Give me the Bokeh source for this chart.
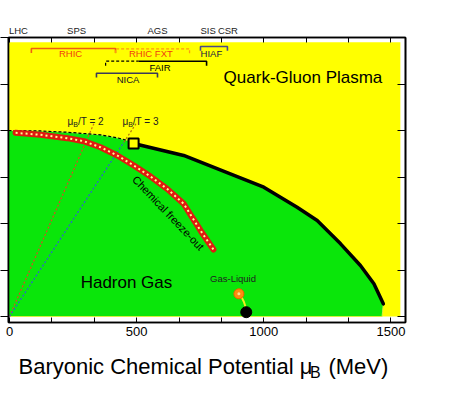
from bokeh.plotting import figure
from bokeh.models import Range1d, LinearAxis, FixedTicker, Label, CustomLabelingPolicy
from bokeh.embed import file_html
from bokeh.resources import INLINE

FONT = "Liberation Sans"

# ---------------- data (mu_B in MeV, T in MeV) ----------------
X_TICKS = [0, 500, 1000, 1500]
X_MINOR = [166.67, 333.33, 666.67, 833.33, 1166.67, 1333.33]
Y_TICKS = [0, 40, 80, 120, 160, 200, 240]

# Quark-gluon plasma background box
QGP_LEFT, QGP_RIGHT, QGP_BOTTOM, QGP_TOP = -3, 1537, 0, 236

# crossover line (dashed)
CROSS_MU = [-4, 122, 227, 358, 424, 476, 488]
CROSS_T = [160.0, 159.6, 158.5, 156.3, 153.7, 150.8, 148.8]
# first-order transition line
FO_MU = [488, 685, 908, 1000, 1131, 1210, 1302, 1380, 1433, 1470]
FO_T = [148.8, 138.5, 119.3, 111.2, 94.0, 82.6, 62.5, 43.9, 28.1, 10.9]
# closing of the hadron-gas region
HG_CLOSE_MU = [1467, 1465, -4]
HG_CLOSE_T = [4, 0, 0]
# critical end point
CEP_MU = [488]
CEP_T = [148.8]

# chemical freeze-out curve
CFO_MU = [24, 122, 227, 292, 358, 424, 489, 555, 620, 685, 718, 751, 802]
CFO_T = [158.0, 156.3, 153.4, 150.8, 145.6, 138.5, 129.9, 120.4, 109.8, 97.0, 85.4, 74.0, 57.6]

# mu_B/T = 2 and 3 lines (inside hadron gas, then above)
R2_LOW_MU, R2_LOW_T = [0, 316], [0, 158]
R2_HIGH_MU, R2_HIGH_T = [316, 332], [158, 166]
R3_LOW_MU, R3_LOW_T = [0, 450], [0, 150]
R3_HIGH_MU, R3_HIGH_T = [450, 498], [150, 166]

# nuclear gas-liquid transition
GL_CP_MU, GL_CP_T = [902], [19.5]
NUC_MU, NUC_T = [931], [3.7]
GL_LINE_MU = [905, 914, 922, 927, 929]
GL_LINE_T = [18.5, 16.0, 12.5, 9.0, 5.5]

# accelerator labels (top)
ACC_NAMES = ["LHC", "SPS", "AGS", "SIS", "CSR"]
ACC_MU = [35, 264, 582, 781, 859]

# facility coverage brackets
FAC_NAMES = ["RHIC", "RHIC FXT", "HIAF", "FAIR", "NICA"]
FAC_START = [86, 417, 751, 378, 342]
FAC_END = [417, 708, 857, 775, 582]
FAC_T = [230.5, 230.3, 232.3, 219.6, 209.3]
FAIR_DASH_END = 507

# ---------------- figure ----------------
p = figure(width=474, height=383, output_backend="svg", toolbar_location=None,
           x_range=Range1d(-3.9, 1557.2), y_range=Range1d(-5.16, 240),
           y_axis_location="left", min_border_left=8, min_border_right=69,
           min_border_top=37, min_border_bottom=61)
p.grid.visible = False
p.outline_line_color = "black"
p.outline_line_width = 1.6
p.background_fill_color = "white"
p.border_fill_color = "white"

NO_LABELS = CustomLabelingPolicy(code="return []")

# left axis: outside ticks only
ya = p.yaxis[0]
ya.ticker = FixedTicker(ticks=Y_TICKS)
ya.major_tick_in = 0
ya.major_tick_out = 8
ya.minor_tick_line_color = None
ya.major_label_text_font_size = "0px"
ya.major_label_standoff = 0
ya.major_label_policy = NO_LABELS
ya.axis_line_color = "black"
ya.axis_line_width = 1.6

# bottom axis
xa = p.xaxis[0]
xa.ticker = FixedTicker(ticks=X_TICKS, minor_ticks=X_MINOR)
xa.major_tick_in = 5
xa.major_tick_out = 0
xa.minor_tick_in = 5
xa.minor_tick_out = 0
xa.axis_line_color = "black"
xa.axis_line_width = 1.6
xa.major_label_text_font = FONT
xa.major_label_text_font_size = "13px"
xa.major_label_text_color = "black"
xa.major_label_standoff = 4

# top axis: accelerator names as labels, scale ticks as minor ticks
ta = LinearAxis(ticker=FixedTicker(ticks=ACC_MU, minor_ticks=X_TICKS + X_MINOR),
                major_label_overrides=dict(zip(ACC_MU, ACC_NAMES)),
                major_tick_in=0, major_tick_out=0, major_tick_line_color=None,
                minor_tick_in=5, minor_tick_out=0,
                major_label_text_font=FONT, major_label_text_font_size="9.5px",
                major_label_text_color="#222222", major_label_standoff=2,
                axis_line_color="black", axis_line_width=1.6)
p.add_layout(ta, "above")

# right axis
ra = LinearAxis(ticker=FixedTicker(ticks=Y_TICKS), major_tick_in=8, major_tick_out=0,
                minor_tick_line_color=None, major_label_text_font_size="0px",
                major_label_standoff=0, major_label_policy=NO_LABELS,
                axis_line_color="black", axis_line_width=1.6)
p.add_layout(ra, "right")

YELLOW = "#ffff00"
GREEN = "#0ae60a"

# QGP background
p.quad(left=[QGP_LEFT], right=[QGP_RIGHT], bottom=[QGP_BOTTOM], top=[QGP_TOP],
       fill_color=YELLOW, line_color=None)

# hadron gas region
hg_mu = CROSS_MU + FO_MU[1:] + HG_CLOSE_MU
hg_t = CROSS_T + FO_T[1:] + HG_CLOSE_T
p.patch(hg_mu, hg_t, fill_color=GREEN, line_color="#d8f040", line_width=1)

# mu_B/T lines
p.line(R2_LOW_MU, R2_LOW_T, line_color="#e04a20", line_width=1.2, line_dash="2 2")
p.line(R2_HIGH_MU, R2_HIGH_T, line_color="#d07010", line_width=1.2, line_dash="2 2")
p.line(R3_LOW_MU, R3_LOW_T, line_color="#2a60d8", line_width=1.2, line_dash="2 2")
p.line(R3_HIGH_MU, R3_HIGH_T, line_color="#b07010", line_width=1.2, line_dash="2 2")

# crossover (dashed)
p.line(CROSS_MU, CROSS_T, line_color="black", line_width=1.2, line_dash="3 2")

# chemical freeze-out
p.line(CFO_MU, CFO_T, line_color="#e01a10", line_width=6, line_cap="round")
p.line(CFO_MU, CFO_T, line_color="#ffff90", line_width=2, line_dash="2 3")

# first-order line
p.line(FO_MU, FO_T, line_color="black", line_width=3.5, line_cap="round")

# critical end point
p.scatter(CEP_MU, CEP_T, marker="square", size=10, fill_color=YELLOW,
          line_color="black", line_width=2)

# gas-liquid
p.line(GL_LINE_MU, GL_LINE_T, line_color="#f0f020", line_width=2)
p.scatter(GL_CP_MU, GL_CP_T, marker="circle", size=10, fill_color="#ff8c10",
          line_color="#f06000", line_width=1)
p.scatter(GL_CP_MU, GL_CP_T, marker="circle", size=3, fill_color="#ffe090",
          line_color=None)
p.scatter(NUC_MU, NUC_T, marker="circle", size=11, fill_color="black",
          line_color="black")

# facility brackets
FAC_STYLE = {
    "RHIC": dict(line_color="#f06010", text_color="#f03c10", lx=240, dy=4.3),
    "RHIC FXT": dict(line_color="#ff9a10", text_color="#f03c10", lx=556, dy=4.3),
    "HIAF": dict(line_color="#4a4a88", text_color="#202040", lx=794, dy=6.0),
    "FAIR": dict(line_color="black", text_color="black", lx=592, dy=5.0),
    "NICA": dict(line_color="#3a3a5a", text_color="#101020", lx=466, dy=5.4),
}
TICK_DROP = 3.8
for name, a, b, t in zip(FAC_NAMES, FAC_START, FAC_END, FAC_T):
    st = FAC_STYLE[name]
    if name == "RHIC FXT":
        p.line([a, a, b, b], [t - TICK_DROP, t, t, t - TICK_DROP],
               line_color=st["line_color"], line_width=1.3, line_dash="3 2")
    elif name == "FAIR":
        p.line([a, a, FAIR_DASH_END], [t - TICK_DROP, t, t],
               line_color="black", line_width=1.2, line_dash="3 2")
        p.line([FAIR_DASH_END, b, b], [t, t, t - TICK_DROP],
               line_color="black", line_width=1.6)
    else:
        p.line([a, a, b, b], [t - TICK_DROP, t, t, t - TICK_DROP],
               line_color=st["line_color"], line_width=1.6)
    p.add_layout(Label(x=st["lx"], y=t - st["dy"], text=name, text_font=FONT,
                       text_font_size="9.5px", text_color=st["text_color"],
                       text_align="center", text_baseline="middle"))

# region labels
p.add_layout(Label(x=1154, y=205.6, text="Quark-Gluon Plasma", text_font=FONT,
                   text_font_size="17px", text_color="black", text_align="center",
                   text_baseline="middle"))
p.add_layout(Label(x=460, y=29.2, text="Hadron Gas", text_font=FONT,
                   text_font_size="17px", text_color="black", text_align="center",
                   text_baseline="middle"))
p.add_layout(Label(x=879, y=32.3, text="Gas-Liquid", text_font=FONT,
                   text_font_size="9.5px", text_color="#202020", text_align="center",
                   text_baseline="middle"))
p.add_layout(Label(x=625, y=89, text="Chemical freeze-out", text_font=FONT,
                   text_font_size="11px", text_color="black", text_align="center",
                   text_baseline="middle", angle=-0.808))

# mu_B/T labels
for x0, r in ((228, "2"), (444, "3")):
    p.add_layout(Label(x=x0, y=167.7, text="μ", text_font=FONT, text_font_size="10px",
                       text_color="#202020", text_baseline="alphabetic"))
    p.add_layout(Label(x=x0 + 23, y=165.4, text="B", text_font=FONT, text_font_size="7px",
                       text_color="#202020", text_baseline="alphabetic"))
    p.add_layout(Label(x=x0 + 41, y=167.7, text="/T = " + r, text_font=FONT,
                       text_font_size="10px", text_color="#202020",
                       text_baseline="alphabetic"))

# x axis title with subscript (pieces live in side panels so they are not clipped)
p.add_layout(Label(x=35.4, y=-43.0, text="Baryonic Chemical Potential μ", text_font=FONT,
                   text_font_size="22px", text_color="black", text_baseline="alphabetic"),
             "below")
p.add_layout(Label(x=1182, y=-48.2, text="B", text_font=FONT, text_font_size="16px",
                   text_color="black", text_baseline="alphabetic"), "above")
p.add_layout(Label(x=1254, y=-43.0, text="(MeV)", text_font=FONT, text_font_size="22px",
                   text_color="black", text_baseline="alphabetic"), "right")

open("out.html", "w").write(file_html(p, INLINE))
